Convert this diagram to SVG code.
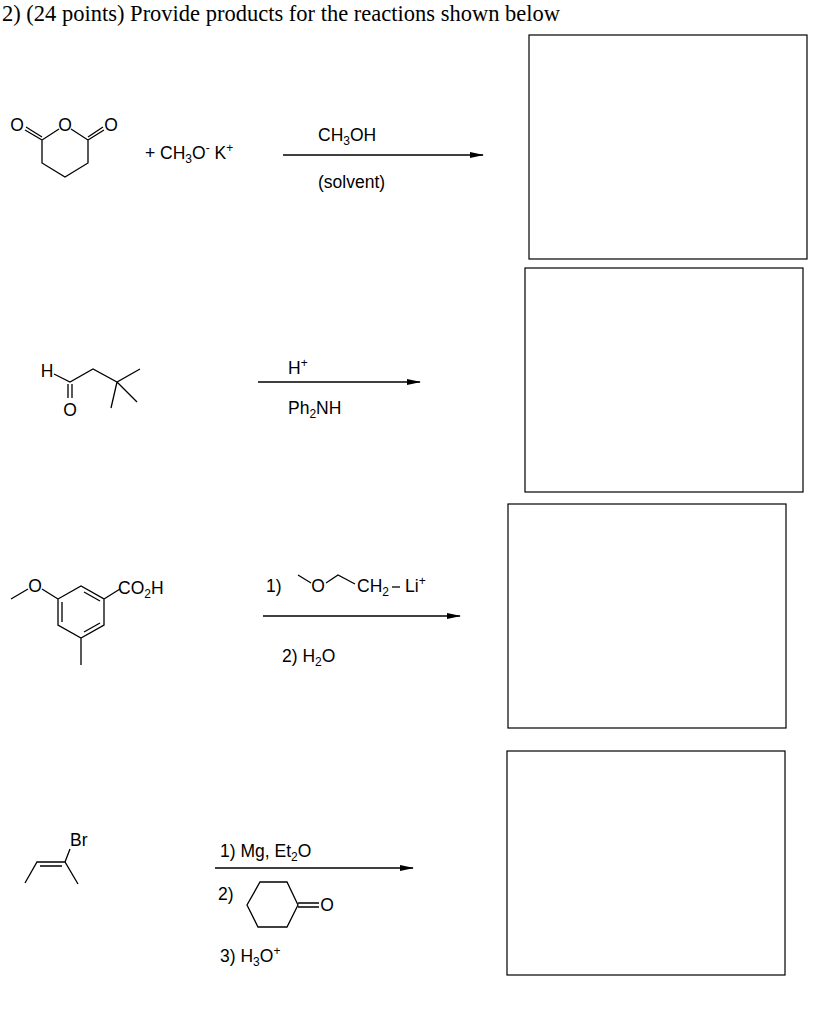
<svg xmlns="http://www.w3.org/2000/svg" width="831" height="1024" viewBox="0 0 831 1024">
<style>
.b{stroke:#000;stroke-width:1.3;fill:none}
.t{font-family:"Liberation Sans",Arial,sans-serif;font-size:17.5px;fill:#000}
.s{font-size:12px}
.a{stroke:#000;stroke-width:1.3;marker-end:url(#ah)}
.box{fill:none;stroke:#000;stroke-width:1.2}
</style>
<defs><marker id="ah" markerWidth="14" markerHeight="6" refX="13" refY="3" orient="auto" markerUnits="userSpaceOnUse"><path d="M0,0L14,3L0,6z" fill="#000"/></marker></defs>
<rect width="831" height="1024" fill="#fff"/>
<text x="2" y="21" style="font-family:'Liberation Serif',serif;font-size:22.5px">2) (24 points) Provide products for the reactions shown below</text>
<g id="boxes">
<rect class="box" x="529" y="35" width="278" height="224"/>
<rect class="box" x="525" y="268" width="278" height="224"/>
<rect class="box" x="508" y="504" width="278" height="224"/>
<rect class="box" x="507" y="751" width="278" height="224"/>
</g>
<g id="anhydride">
<path class="b" d="M59,129L42,140L42,163L65,177L88,163L88,140L71,129M42,140L25,130M42,137L26,127M88,140L104,130M88,137L103,127"/>
<text class="t" x="65" y="131" text-anchor="middle">O</text>
<text class="t" x="17" y="131" text-anchor="middle">O</text>
<text class="t" x="111" y="131" text-anchor="middle">O</text>
</g>
<g id="reagent1"><text class="t" x="145" y="159">+ CH<tspan class="s" dy="4">3</tspan><tspan dy="-4">O</tspan><tspan class="s" dy="-7">-</tspan><tspan dy="7"> K</tspan><tspan class="s" dy="-7">+</tspan></text></g>
<g id="cond1"><text class="t" x="318" y="141">CH<tspan class="s" dy="4">3</tspan><tspan dy="-4">OH</tspan></text><text class="t" x="318" y="188">(solvent)</text></g>
<g id="aldehyde">
<path class="b" d="M54,374L70,382L93,369L117,382L140,369M117,382L137,402M117,382L111,408M68,384L68,398M72,384L72,398"/>
<text class="t" x="47" y="377" text-anchor="middle">H</text>
<text class="t" x="70" y="416" text-anchor="middle">O</text>
</g>
<g id="cond2"><text class="t" x="288" y="374">H<tspan class="s" dy="-7">+</tspan></text><text class="t" x="288" y="414">Ph<tspan class="s" dy="4">2</tspan><tspan dy="-4">NH</tspan></text></g>
<g id="acid">
<path class="b" d="M11,599L28,589M42,589L58,599M58,599L81,586L104,599L104,625L81,638L58,625Z M62,602L62,622M84,592L100,601M84,632L100,623M81,638L81,665M104,599L120,589"/>
<text class="t" x="35" y="592" text-anchor="middle">O</text>
<text class="t" x="118" y="594">CO<tspan class="s" dy="4">2</tspan><tspan dy="-4">H</tspan></text>
</g>
<g id="cond3">
<text class="t" x="266" y="592">1)</text>
<path class="b" d="M298,575L311,583M326,583L338,575L355,584"/>
<text class="t" x="318" y="592" text-anchor="middle">O</text>
<text class="t" x="357" y="592">CH<tspan class="s" dy="4">2</tspan></text>
<path class="b" d="M392,587L400,587"/>
<text class="t" x="405" y="592">Li<tspan class="s" dy="-7">+</tspan></text>
<text class="t" x="282" y="662">2) H<tspan class="s" dy="4">2</tspan><tspan dy="-4">O</tspan></text>
</g>
<g id="vinylbromide">
<path class="b" d="M25,883L37,862L65,862L78,884M65,862L70,849M40,866L62,866"/>
<text class="t" x="70" y="846">Br</text>
</g>
<g id="cond4">
<text class="t" x="220" y="857">1) Mg, Et<tspan class="s" dy="4">2</tspan><tspan dy="-4">O</tspan></text>
<text class="t" x="218" y="900">2)</text>
<path class="b" d="M260,882L287,882L298,905L287,927L258,927L247,905Z M298,903L319,903M298,907L319,907"/>
<text class="t" x="327" y="911" text-anchor="middle">O</text>
<text class="t" x="220" y="962">3) H<tspan class="s" dy="4">3</tspan><tspan dy="-4">O</tspan><tspan class="s" dy="-7">+</tspan></text>
</g>
<g id="connectors">
<line class="a" x1="283" y1="155" x2="483" y2="155"/>
<line class="a" x1="258" y1="382" x2="420" y2="382"/>
<line class="a" x1="263" y1="616" x2="460" y2="616"/>
<line class="a" x1="215" y1="868" x2="413" y2="868"/>
</g>
</svg>
